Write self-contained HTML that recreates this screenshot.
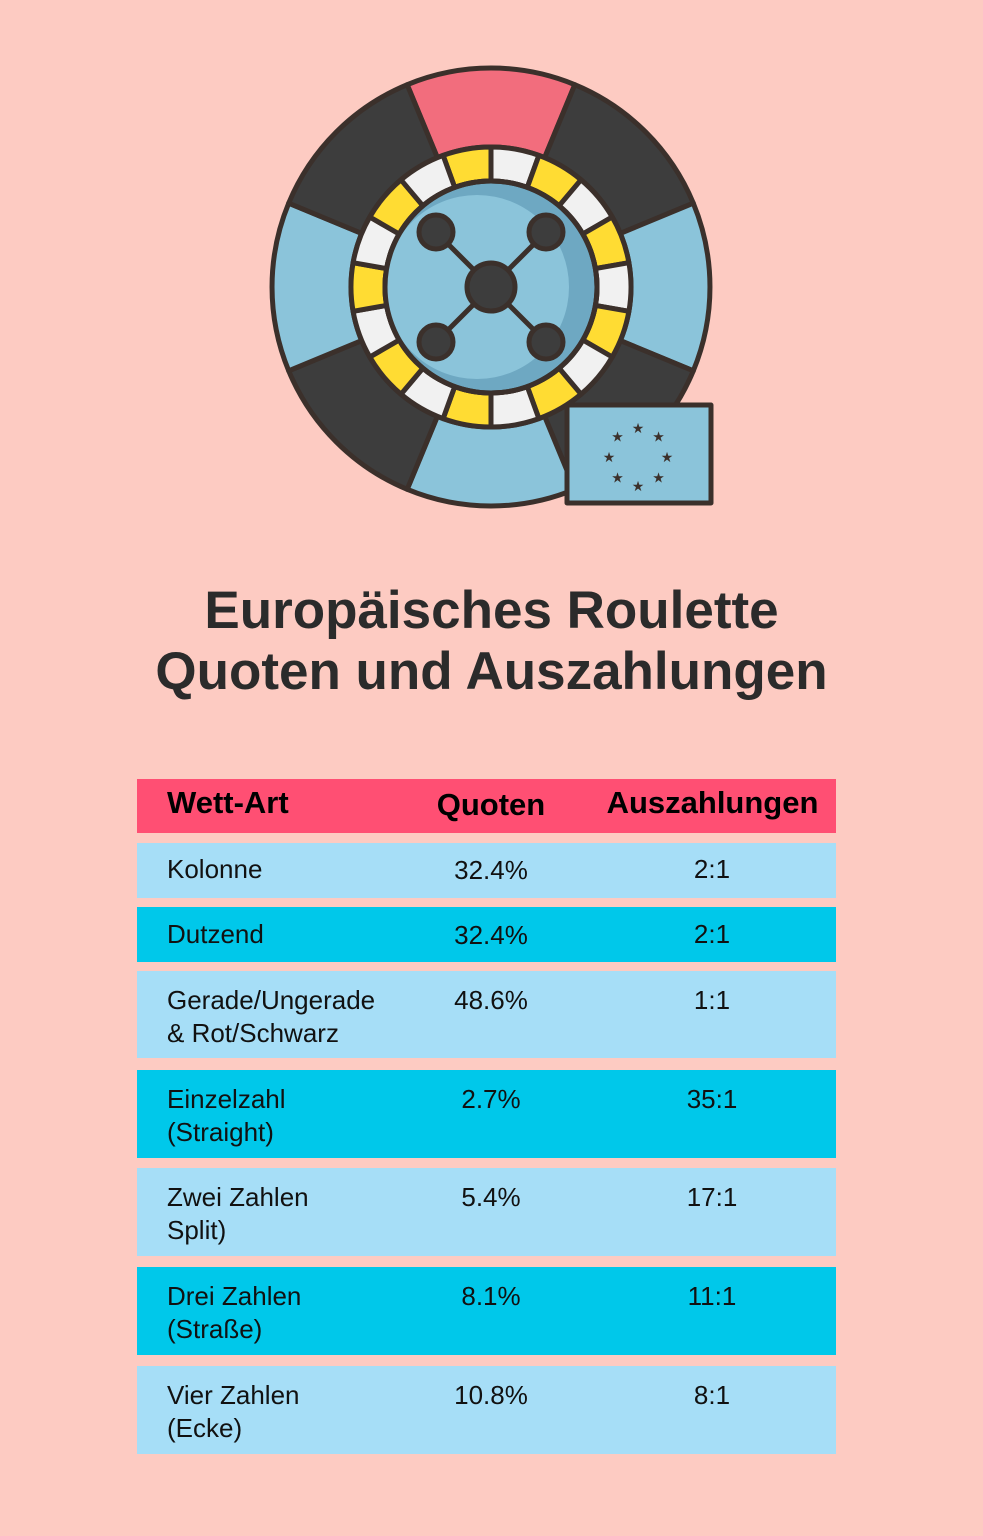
<!DOCTYPE html>
<html><head><meta charset="utf-8"><style>
body{margin:0;width:983px;height:1536px;background:#fdcbc2;position:relative;overflow:hidden;font-family:"Liberation Sans",sans-serif;color:#111}
.t{position:absolute;left:0;width:983px;text-align:center;font-weight:bold;font-size:53px;color:#2b2b2b}
.r{position:absolute;left:137px;width:699px}
.c{position:absolute;font-size:26px;line-height:33px;white-space:nowrap}
.a{left:30px}.b{left:254px;width:200px;text-align:center}.d{left:475px;width:200px;text-align:center}
.h .c{font-weight:bold;font-size:31px;color:#000}
</style></head><body>
<svg id="s" width="983" height="540" style="position:absolute;left:0;top:0"></svg>
<div class="t" style="top:580px">Europäisches Roulette</div>
<div class="t" style="top:641px">Quoten und Auszahlungen</div>

<div class="r h" style="top:779px;height:54px;background:#ff4f73"><div class="c a" style="top:7px">Wett-Art</div><div class="c b" style="top:9px">Quoten</div><div class="c d" style="top:7px;left:458px;width:235px">Auszahlungen</div></div>
<div class="r" style="top:843px;height:55px;background:#a6def7"><div class="c a" style="top:10px">Kolonne</div><div class="c b" style="top:11px">32.4%</div><div class="c d" style="top:10px">2:1</div></div>
<div class="r" style="top:907px;height:55px;background:#00c8ea"><div class="c a" style="top:11px">Dutzend</div><div class="c b" style="top:12px">32.4%</div><div class="c d" style="top:11px">2:1</div></div>
<div class="r" style="top:971px;height:87px;background:#a6def7"><div class="c a" style="top:13px">Gerade/Ungerade<br>&amp; Rot/Schwarz</div><div class="c b" style="top:13px">48.6%</div><div class="c d" style="top:13px">1:1</div></div>
<div class="r" style="top:1070px;height:88px;background:#00c8ea"><div class="c a" style="top:13px">Einzelzahl<br>(Straight)</div><div class="c b" style="top:13px">2.7%</div><div class="c d" style="top:13px">35:1</div></div>
<div class="r" style="top:1168px;height:88px;background:#a6def7"><div class="c a" style="top:13px">Zwei Zahlen<br>Split)</div><div class="c b" style="top:13px">5.4%</div><div class="c d" style="top:13px">17:1</div></div>
<div class="r" style="top:1267px;height:88px;background:#00c8ea"><div class="c a" style="top:13px">Drei Zahlen<br>(Straße)</div><div class="c b" style="top:13px">8.1%</div><div class="c d" style="top:13px">11:1</div></div>
<div class="r" style="top:1366px;height:88px;background:#a6def7"><div class="c a" style="top:13px">Vier Zahlen<br>(Ecke)</div><div class="c b" style="top:13px">10.8%</div><div class="c d" style="top:13px">8:1</div></div>

<script>
var cx=491,cy=287,S='',st='stroke="#3b302b" stroke-width="5" stroke-linejoin="round"';
function p(a,r){a=a*Math.PI/180;return (cx+r*Math.cos(a)).toFixed(1)+','+(cy+r*Math.sin(a)).toFixed(1)}
function seg(a1,a2,r1,r2,f){S+='<path d="M'+p(a1,r1)+' L'+p(a1,r2)+' A'+r2+','+r2+' 0 0 1 '+p(a2,r2)+' L'+p(a2,r1)+' A'+r1+','+r1+' 0 0 0 '+p(a1,r1)+'Z" fill="'+f+'" '+st+'/>'}
var cols=['#f26d7d','#3d3d3d','#8bc4da','#3d3d3d','#8bc4da','#3d3d3d','#8bc4da','#3d3d3d'];
for(var i=0;i<8;i++)seg(-112.5+45*i,-67.5+45*i,140,219,cols[i]);
for(var i=0;i<18;i++)seg(-110+20*i,-90+20*i,106,140,i%2?'#f1f1f1':'#ffdc33');
S+='<circle cx="'+cx+'" cy="'+cy+'" r="106" fill="#6ea8c2" '+st+'/>';
S+='<circle cx="'+(cx-14)+'" cy="'+cy+'" r="92" fill="#8bc4da"/>';
S+='<circle cx="'+cx+'" cy="'+cy+'" r="106" fill="none" '+st+'/>';
[[-55,-55],[55,-55],[-55,55],[55,55]].forEach(function(d){S+='<line x1="'+cx+'" y1="'+cy+'" x2="'+(cx+d[0])+'" y2="'+(cy+d[1])+'" stroke="#3b302b" stroke-width="5"/><circle cx="'+(cx+d[0])+'" cy="'+(cy+d[1])+'" r="17" fill="#3d3d3d" '+st+'/>'});
S+='<circle cx="'+cx+'" cy="'+cy+'" r="24" fill="#3d3d3d" '+st+'/>';
S+='<rect x="567" y="405" width="144" height="98" fill="#8bc4da" '+st+'/>';
for(var i=0;i<8;i++){var a=i*45*Math.PI/180-Math.PI/2;S+='<text x="'+(638+29*Math.cos(a)).toFixed(1)+'" y="'+(462+29*Math.sin(a)).toFixed(1)+'" font-size="14" text-anchor="middle" fill="#3b302b">★</text>'}
document.getElementById('s').innerHTML=S;
</script>
</body></html>
